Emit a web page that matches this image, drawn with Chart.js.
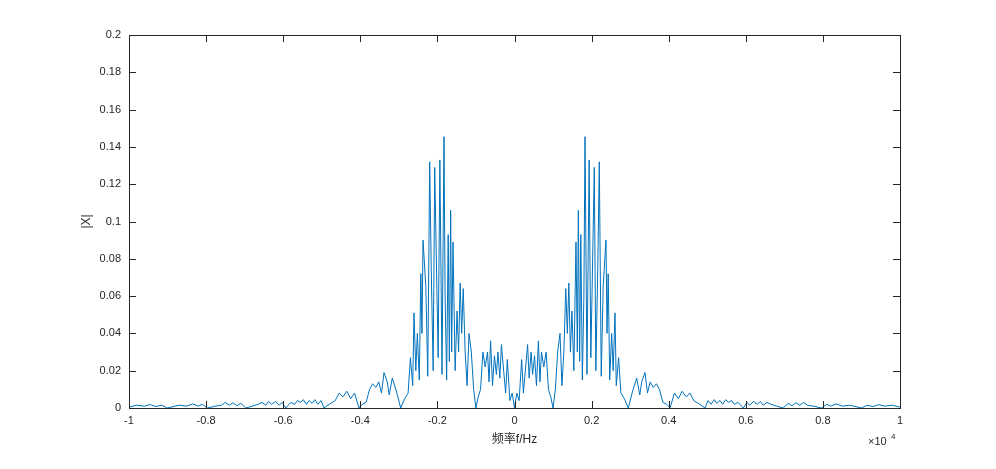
<!DOCTYPE html>
<html>
<head>
<meta charset="utf-8">
<script src="https://cdn.jsdelivr.net/npm/chart.js@4/dist/chart.umd.min.js"></script>
<style>
  html, body { margin: 0; padding: 0; background: #fff; }
  #wrap { width: 996px; height: 469px; position: relative; }
</style>
</head>
<body>
<div id="wrap"><canvas id="c"></canvas></div>
<script>
// positive-frequency half of the magnitude spectrum (Hz)
var freqPos = [0, 60, 120, 186, 230, 290, 340, 380, 430, 470, 520, 570, 620, 660, 700, 760, 820, 880, 940, 1000,
  1060, 1120, 1180, 1230, 1280, 1330, 1370, 1410, 1450, 1490, 1540, 1595, 1630, 1656, 1690, 1720, 1760, 1800, 1829, 1880,
  1936, 1980, 2010, 2070, 2110, 2160, 2200, 2250, 2300, 2373, 2400, 2430, 2470, 2520, 2560, 2607, 2640, 2700, 2760, 2850,
  2952, 3050, 3170, 3250, 3300, 3385, 3450, 3520, 3600, 3680, 3760, 3850, 3950, 4034, 4150, 4250, 4350, 4450, 4550, 4650,
  4800, 4942, 5020, 5100, 5180, 5250, 5330, 5400, 5480, 5550, 5630, 5700, 5800, 5935, 6030, 6100, 6200, 6300, 6380, 6450,
  6550, 6650, 6800, 6970, 7100, 7200, 7300, 7400, 7500, 7600, 7750, 7970, 8100, 8200, 8350, 8500, 8700, 9000,
  9150, 9300, 9450, 9600, 9800, 10000];
var ampPos = [0, 0.008, 0.004, 0.026, 0.008, 0.022, 0.034, 0.016, 0.030, 0.018, 0.028, 0.012, 0.036, 0.014, 0.030, 0.022, 0.030, 0.010, 0.006, 0,
  0.010, 0.030, 0.040, 0.012, 0.030, 0.064, 0.040, 0.067, 0.030, 0.052, 0.020, 0.089, 0.030, 0.106, 0.025, 0.093, 0.015, 0.060, 0.1455, 0.018,
  0.133, 0.027, 0.060, 0.129, 0.020, 0.075, 0.132, 0.017, 0.065, 0.090, 0.040, 0.072, 0.015, 0.040, 0.020, 0.051, 0.012, 0.027, 0.008, 0.005,
  0, 0.008, 0.016, 0.007, 0.014, 0.019, 0.008, 0.014, 0.011, 0.013, 0.010, 0.003, 0.002, 0, 0.008, 0.005, 0.009, 0.006, 0.008, 0.004,
  0.002, 0, 0.004, 0.002, 0.0045, 0.0025, 0.004, 0.002, 0.0045, 0.003, 0.004, 0.002, 0.003, 0, 0.003, 0.0015, 0.0035, 0.002, 0.0035, 0.0015,
  0.003, 0.002, 0.001, 0, 0.0025, 0.0012, 0.0028, 0.0015, 0.003, 0.0015, 0.001, 0, 0.002, 0.001, 0.0022, 0.001, 0.0015, 0,
  0.0015, 0.0008, 0.0018, 0.001, 0.0015, 0.0005];
var xTicks = [-1, -0.8, -0.6, -0.4, -0.2, 0, 0.2, 0.4, 0.6, 0.8, 1];
var yTicks = [0, 0.02, 0.04, 0.06, 0.08, 0.1, 0.12, 0.14, 0.16, 0.18, 0.2];

// spectrum of a real signal is symmetric: mirror the read half onto negative f
var points = [];
for (var i = freqPos.length - 1; i > 0; i--) points.push({ x: -freqPos[i] / 1e4, y: ampPos[i] });
for (var j = 0; j < freqPos.length; j++) points.push({ x: freqPos[j] / 1e4, y: ampPos[j] });

var ink = "#262626";
var fam = "Liberation Sans, Arial, sans-serif";
var font = { family: fam, size: 11 };

// MATLAB-style box, inward ticks, axis titles and the x10^4 multiplier
var frame = {
  id: "frame",
  afterDraw: function (chart) {
    var ctx = chart.ctx, a = chart.chartArea, sx = chart.scales.x, sy = chart.scales.y;
    ctx.save();
    ctx.strokeStyle = ink; ctx.lineWidth = 1;
    ctx.strokeRect(Math.round(a.left) + 0.5, Math.round(a.top) + 0.5,
      Math.round(a.right - a.left), Math.round(a.bottom - a.top));
    ctx.beginPath();
    xTicks.forEach(function (t) {
      var px = Math.round(sx.getPixelForValue(t)) + 0.5;
      ctx.moveTo(px, a.bottom); ctx.lineTo(px, a.bottom - 7);
      ctx.moveTo(px, a.top); ctx.lineTo(px, a.top + 7);
    });
    yTicks.forEach(function (t) {
      var py = Math.round(sy.getPixelForValue(t)) + 0.5;
      ctx.moveTo(a.left, py); ctx.lineTo(a.left + 7, py);
      ctx.moveTo(a.right, py); ctx.lineTo(a.right - 7, py);
    });
    ctx.stroke();
    ctx.fillStyle = ink;
    ctx.textBaseline = "middle";
    ctx.textAlign = "center";
    ctx.font = "12px Liberation Sans, Noto Sans CJK SC, sans-serif";
    ctx.fillText("频率f/Hz", (a.left + a.right) / 2, a.bottom + 32);
    ctx.save();
    ctx.translate(a.left - 42, (a.top + a.bottom) / 2);
    ctx.rotate(-Math.PI / 2);
    ctx.fillText("|X|", 0, 0);
    ctx.restore();
    ctx.textAlign = "left"; ctx.textBaseline = "alphabetic";
    ctx.font = "11px " + fam;
    ctx.fillText("\u00d710", a.right - 32, a.bottom + 37);
    ctx.font = "8px " + fam;
    ctx.fillText("4", a.right - 9, a.bottom + 31);
    ctx.restore();
  }
};

new Chart(document.getElementById("c"), {
  type: "line",
  data: { datasets: [{
    data: points,
    borderColor: "#0072bd",
    borderWidth: 1,
    pointRadius: 0,
    tension: 0,
    fill: false
  }] },
  options: {
    responsive: true,
    maintainAspectRatio: false,
    animation: false,
    layout: { padding: { left: 0, right: 96, top: 35, bottom: 0 } },
    plugins: { legend: { display: false }, tooltip: { enabled: false } },
    scales: {
      x: {
        type: "linear", min: -1, max: 1,
        afterBuildTicks: function (s) { s.ticks = xTicks.map(function (v) { return { value: v }; }); },
        afterFit: function (s) { s.height = 61; },
        ticks: { color: ink, font: font, padding: 6, maxRotation: 0,
                 callback: function (v) { return String(Math.round(v * 10) / 10); } },
        grid: { display: false, drawTicks: false },
        border: { display: false }
      },
      y: {
        min: 0, max: 0.2,
        afterBuildTicks: function (s) { s.ticks = yTicks.map(function (v) { return { value: v }; }); },
        afterFit: function (s) { s.width = 129; },
        ticks: { color: ink, font: font, padding: 8,
                 callback: function (v) { return String(Math.round(v * 100) / 100); } },
        grid: { display: false, drawTicks: false },
        border: { display: false }
      }
    }
  },
  plugins: [frame]
});
</script>
</body>
</html>
